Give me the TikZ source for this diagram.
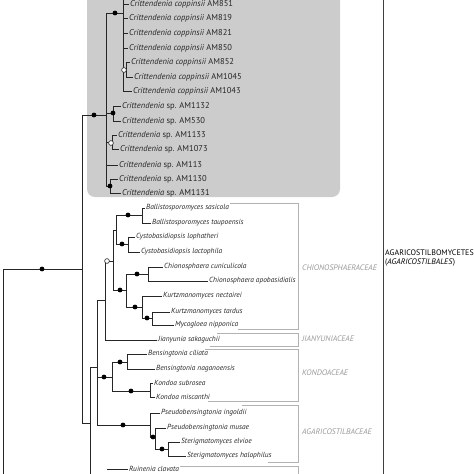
\documentclass[tikz,border=0pt]{standalone}
\usepackage{fontspec}
\setmainfont{PT Sans}
\begin{document}
\begin{tikzpicture}[x=1pt,y=-1pt,
  br/.style={draw=black!85, line width=0.85pt},
  fam/.style={draw=black!30, line width=0.7pt},
  bdot/.style={circle, fill=black, inner sep=0pt, minimum size=4.8pt},
  odot/.style={circle, fill=white, draw=black!85, line width=0.6pt, inner sep=0pt, minimum size=4.8pt},
  leaf/.style={anchor=west, inner sep=1pt, font=\fontsize{7.4}{8}\selectfont\itshape, text=black!85},
  leafbox/.style={anchor=west, inner sep=1pt, font=\fontsize{8.5}{9}\selectfont\itshape, text=black!85},
  famlab/.style={anchor=west, inner sep=0pt, font=\fontsize{8}{9}\selectfont\itshape, text=black!40},
  cls/.style={anchor=west, inner sep=0pt, font=\fontsize{8}{9}\selectfont, text=black}]
\useasboundingbox (0,0) rectangle (474,474);
\clip (0,0) rectangle (474,474);
% grey clade box
\fill[black!20, rounded corners=8pt] (87,-20) rectangle (340,197);
% class bar
\draw[draw=black!75, line width=0.8pt] (383,-2) -- (383,476);
\node[cls] (clsA) at (385,253) {AGARICOSTILBOMYCETES};
\node[cls] (clsB) at (385,263) {(\textit{AGARICOSTILBALES})};
% family brackets
\draw[fam] (230,203) -- (298,203) -- (298,329) -- (238,329);
\draw[fam] (217,333) -- (298,333) -- (298,346) -- (210,346);
\draw[fam] (205,349) -- (298,349) -- (298,401) -- (208,401);
\draw[fam] (242,405) -- (298,405) -- (298,462) -- (268,462);
\draw[fam] (180,466) -- (298,466) -- (298,480);
\node[famlab] (fChi) at (302,268) {CHIONOSPHAERACEAE};
\node[famlab] (fJia) at (302,339) {JIANYUNIACEAE};
\node[famlab] (fKon) at (302,373) {KONDOACEAE};
\node[famlab] (fAga) at (302,432) {AGARICOSTILBACEAE};
% leaves
\node[leafbox] (a851) at (129,4.5) {Crittendenia coppinsii \upshape AM851};
\node[leafbox] (a819) at (128,18.5) {Crittendenia coppinsii \upshape AM819};
\node[leafbox] (a821) at (128,33) {Crittendenia coppinsii \upshape AM821};
\node[leafbox] (a850) at (128,48) {Crittendenia coppinsii \upshape AM850};
\node[leafbox] (a852) at (130,62) {Crittendenia coppinsii \upshape AM852};
\node[leafbox] (a1045) at (133,77) {Crittendenia coppinsii \upshape AM1045};
\node[leafbox] (a1043) at (132,91) {Crittendenia coppinsii \upshape AM1043};
\node[leafbox] (s1132) at (121,106) {Crittendenia \upshape sp. AM1132};
\node[leafbox] (s530) at (121,121) {Crittendenia \upshape sp. AM530};
\node[leafbox] (s1133) at (117,135) {Crittendenia \upshape sp. AM1133};
\node[leafbox] (s1073) at (119,149) {Crittendenia \upshape sp. AM1073};
\node[leafbox] (s113) at (118,165) {Crittendenia \upshape sp. AM113};
\node[leafbox] (s1130) at (118,179) {Crittendenia \upshape sp. AM1130};
\node[leafbox] (s1131) at (121,193) {Crittendenia \upshape sp. AM1131};
\node[leaf] (bsas) at (145,208) {Ballistosporomyces sasicola};
\node[leaf] (btau) at (151,223) {Ballistosporomyces taupoensis};
\node[leaf] (clop) at (135,237) {Cystobasidiopsis lophatheri};
\node[leaf] (clac) at (140,252) {Cystobasidiopsis lactophila};
\node[leaf] (chcu) at (163,267) {Chionosphaera cuniculicola};
\node[leaf] (chap) at (208,281) {Chionosphaera apobasidialis};
\node[leaf] (knec) at (162,296) {Kurtzmanomyces nectairei};
\node[leaf] (ktar) at (170,312) {Kurtzmanomyces tardus};
\node[leaf] (mnip) at (174,325) {Mycogloea nipponica};
\node[leaf] (jsak) at (157,340) {Jianyunia sakaguchii};
\node[leaf] (bcil) at (147,354) {Bensingtonia ciliata};
\node[leaf] (bnag) at (155,369) {Bensingtonia naganoensis};
\node[leaf] (ksub) at (153,383) {Kondoa subrosea};
\node[leaf] (kmis) at (155,397) {Kondoa miscanthi};
\node[leaf] (ping) at (160,413) {Pseudobensingtonia ingoldii};
\node[leaf] (pmus) at (166,428) {Pseudobensingtonia musae};
\node[leaf] (selv) at (180,442) {Sterigmatomyces elvioe};
\node[leaf] (shal) at (186,456) {Sterigmatomyces halophilus};
\node[leaf] (rcla) at (128,469) {Ruinenia clavata};
% internal nodes
\coordinate (r0) at (3,480);
\coordinate (n82) at (82,269);
\coordinate (crit) at (106,115);
\coordinate (copp) at (123,13);
\coordinate (coppTop) at (123,-5);
\coordinate (c852) at (126,70);
\coordinate (c1132) at (113,113);
\coordinate (c1133) at (112,142);
\coordinate (c1130) at (110,186);
\coordinate (n90) at (90,423);
\coordinate (n90b) at (90,480);
\coordinate (n97) at (97,367);
\coordinate (n105) at (105,300);
\coordinate (chio) at (113,261);
\coordinate (bc) at (116,230);
\coordinate (ball) at (142,215);
\coordinate (cys) at (128,244);
\coordinate (ck) at (126,290);
\coordinate (chsp) at (148,274);
\coordinate (km) at (142,307);
\coordinate (tm) at (152,318);
\coordinate (bk) at (112,377);
\coordinate (ben) at (127,362);
\coordinate (kon) at (150,391);
\coordinate (ag) at (150,425);
\coordinate (pm) at (155,437);
\coordinate (ster) at (168,449);
\coordinate (ru) at (107,469);
% branches
\draw[br] (r0) |- (n82);
\draw[br] (n82) |- (crit);
\draw[br] (n82) |- (n90);
\draw[br] (crit) |- (copp);
\draw[br] (copp) -- (coppTop);
\foreach \l in {a851,a819,a821,a850,a1043} \draw[br] (copp) |- (\l.west);
\draw[br] (copp) |- (c852);
\foreach \l in {a852,a1045} \draw[br] (c852) |- (\l.west);
\draw[br] (crit) |- (c1132);
\foreach \l in {s1132,s530} \draw[br] (c1132) |- (\l.west);
\draw[br] (crit) |- (c1133);
\foreach \l in {s1133,s1073} \draw[br] (c1133) |- (\l.west);
\draw[br] (crit) |- (s113.west);
\draw[br] (crit) |- (c1130);
\foreach \l in {s1130,s1131} \draw[br] (c1130) |- (\l.west);
\draw[br] (n90) -- (n90b);
\draw[br] (n90) |- (n97);
\draw[br] (n97) |- (n105);
\draw[br] (n97) |- (bk);
\draw[br] (n97) |- (ag);
\draw[br] (n105) |- (chio);
\draw[br] (n105) |- (jsak.west);
\draw[br] (chio) |- (bc);
\draw[br] (chio) |- (ck);
\draw[br] (bc) |- (ball);
\draw[br] (bc) |- (cys);
\foreach \l in {bsas,btau} \draw[br] (ball) |- (\l.west);
\foreach \l in {clop,clac} \draw[br] (cys) |- (\l.west);
\draw[br] (ck) |- (chsp);
\draw[br] (ck) |- (km);
\foreach \l in {chcu,chap} \draw[br] (chsp) |- (\l.west);
\draw[br] (km) |- (knec.west);
\draw[br] (km) |- (tm);
\foreach \l in {ktar,mnip} \draw[br] (tm) |- (\l.west);
\draw[br] (bk) |- (ben);
\draw[br] (bk) |- (kon);
\foreach \l in {bcil,bnag} \draw[br] (ben) |- (\l.west);
\foreach \l in {ksub,kmis} \draw[br] (kon) |- (\l.west);
\draw[br] (ag) |- (ping.west);
\draw[br] (ag) |- (pm);
\draw[br] (pm) |- (pmus.west);
\draw[br] (pm) |- (ster);
\foreach \l in {selv,shal} \draw[br] (ster) |- (\l.west);
\draw[br] (ru) -- (rcla.west);
% support dots
\node[bdot] (d1) at (42,269) {};
\node[bdot] (d2) at (94,115) {};
\node[bdot] (d3) at (115,13) {};
\node[odot] (d4) at (124,70) {};
\node[bdot] (d5) at (113,113) {};
\node[odot] (d6) at (111,143) {};
\node[bdot] (d7) at (110,186) {};
\node[odot] (d8) at (107,261) {};
\node[bdot] (d9) at (128,215) {};
\node[bdot] (d10) at (122,244) {};
\node[bdot] (d11) at (120,290) {};
\node[bdot] (d12) at (137,274) {};
\node[bdot] (d13) at (135,307) {};
\node[bdot] (d14) at (147,318) {};
\node[bdot] (d15) at (104,377) {};
\node[bdot] (d16) at (120,362) {};
\node[bdot] (d17) at (131,391) {};
\node[bdot] (d18) at (123,425) {};
\node[bdot] (d19) at (153,437) {};
\node[bdot] (d20) at (162,449) {};
\end{tikzpicture}
\end{document}
